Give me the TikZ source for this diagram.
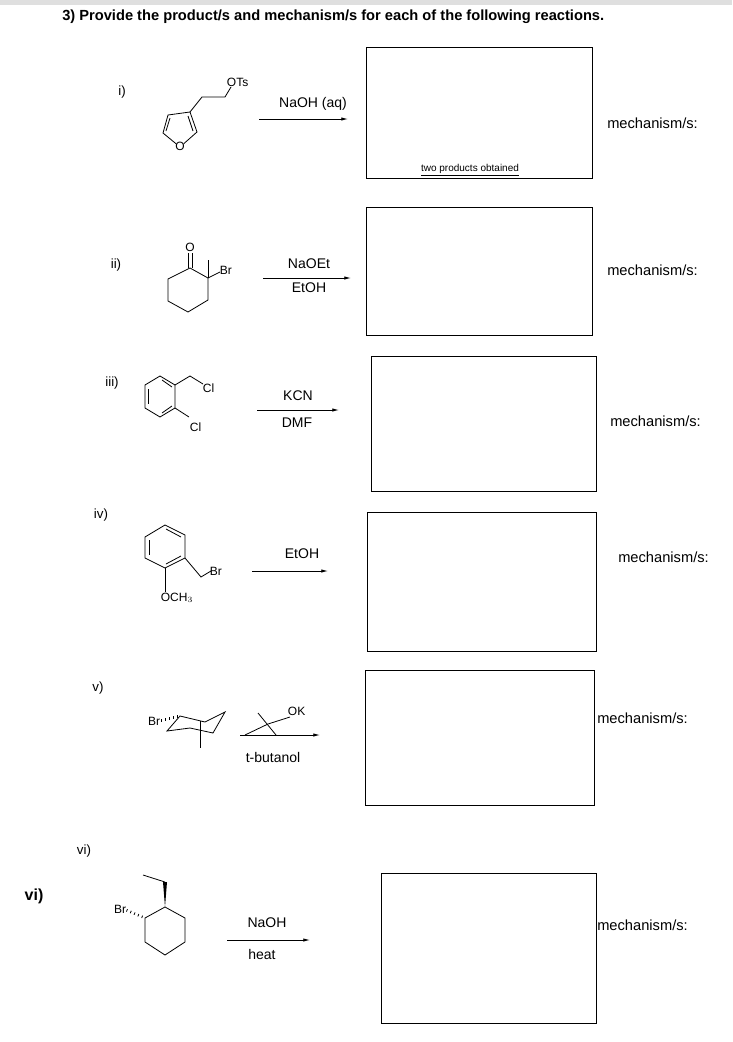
\documentclass[tikz,border=0pt]{standalone}
\usepackage{fontspec}
\setmainfont{Liberation Sans}
\usetikzlibrary{arrows.meta,calc}
\begin{document}
\begin{tikzpicture}[x=0.75pt,y=-0.75pt,
  bond/.style={line width=0.6pt},
  rxn/.style={line width=0.6pt,-{Latex[length=5pt,width=2.5pt]}},
  ansbox/.style={draw,line width=0.7pt},
  lbl/.style={font=\fontsize{10.5}{12}\selectfont,inner sep=1pt},
  atom/.style={font=\fontsize{9}{10}\selectfont,inner sep=0.5pt},
  mech/.style={font=\fontsize{11}{13}\selectfont,anchor=west,inner sep=0pt},
  roman/.style={font=\fontsize{10}{11}\selectfont,inner sep=0pt}]
\useasboundingbox (0,0) rectangle (732,1042);
\fill[gray!25] (0,0) rectangle (732,5);
\node[anchor=west,font=\bfseries\fontsize{11}{13}\selectfont,inner sep=0] (title) at (62,17) {3) Provide the product/s and mechanism/s for each of the following reactions.};
% roman labels
\node[roman] (r1) at (122,92) {i)};
\node[roman] (r2) at (116,265) {ii)};
\node[roman] (r3) at (112,383) {iii)};
\node[roman] (r4) at (101,515) {iv)};
\node[roman] (r5) at (98,688) {v)};
\node[roman] (r6) at (84,851) {vi)};
\node[font=\bfseries\fontsize{12}{14}\selectfont,inner sep=0] (r6b) at (34,896) {vi)};
% boxes
\draw[ansbox] (366,47) rectangle (592,178);
\node[font=\fontsize{7.5}{8}\selectfont,inner sep=1pt] (two) at (470,170) {\underline{two products obtained}};
\draw[ansbox] (366,207) rectangle (592,335);
\draw[ansbox] (371,356) rectangle (596,491);
\draw[ansbox] (367,512) rectangle (596,651);
\draw[ansbox] (365,670) rectangle (594,805);
\draw[ansbox] (381,873) rectangle (596,1023);
\node[mech] (m1) at (607,123) {mechanism/s:};
\node[mech] (m2) at (607,270) {mechanism/s:};
\node[mech] (m3) at (610,421) {mechanism/s:};
\node[mech] (m4) at (618,557) {mechanism/s:};
\node[mech] (m5) at (597,718) {mechanism/s:};
\node[mech] (m6) at (597,925) {mechanism/s:};
% ---- i) furan
\draw[bond] (180,147)--(163,133)--(168,115)--(190,112)--(197,132)--cycle;
\draw[bond] (166,131)--(170,118);
\draw[bond] (188,116)--(193,131);
\fill[white] (180,147) circle (5);
\node[atom] (o1) at (180,146) {O};
\draw[bond] (190,112)--(202,97)--(225,97)--(231,87);
\node[atom,anchor=south west] (ots) at (226,88) {OTs};
\draw[rxn] (259,119)--(348,119);
\node[lbl] (c1) at (313,104) {NaOH (aq)};
% ---- ii)
\draw[bond] (190,268)--(208,278)--(208,300)--(188,312)--(168,301)--(168,279)--cycle;
\draw[bond] (188,268)--(188,253); \draw[bond] (192,268)--(192,253);
\node[atom] (o2) at (190,247) {O};
\draw[bond] (208,278)--(208,260);
\draw[bond] (208,278)--(220,272);
\node[atom,anchor=west] (br2) at (219,270) {Br};
\draw[rxn] (263,278)--(351,278);
\node[lbl] (c2a) at (309,264) {NaOEt};
\node[lbl] (c2b) at (309,288) {EtOH};
% ---- iii)
\draw[bond] (145,385)--(160,376)--(175,385)--(175,408)--(160,417)--(145,408)--cycle;
\draw[bond] (148,389)--(148,404); \draw[bond] (162,380)--(172,387); \draw[bond] (162,413)--(172,406);
\draw[bond] (175,385)--(190,376)--(203,384);
\node[atom,anchor=west] (cl3a) at (202,388) {Cl};
\draw[bond] (175,408)--(189,417);
\node[atom,anchor=west] (cl3b) at (189,427) {Cl};
\draw[rxn] (257,410)--(339,410);
\node[lbl] (c3a) at (298,396) {KCN};
\node[lbl] (c3b) at (297,423) {DMF};
% ---- iv)
\draw[bond] (165,525)--(185,535)--(185,558)--(165,568)--(145,558)--(145,537)--cycle;
\draw[bond] (149,540)--(149,555); \draw[bond] (166,529)--(181,537); \draw[bond] (166,564)--(181,556);
\draw[bond] (185,558)--(201,577)--(211,571);
\node[atom,anchor=west] (br4) at (209,571) {Br};
\draw[bond] (165,568)--(165,592);
\node[atom,anchor=north] (och) at (177,592) {OCH$_3$};
\draw[rxn] (252,571)--(328,571);
\node[lbl] (c4) at (302,554) {EtOH};
% ---- v) chair
\draw[bond] (167,731)--(180,716)--(205,722)--(225,712)--(213,733)--(190,728)--cycle;
\draw[bond] (200,721)--(200,748);
\foreach \t in {0.15,0.35,0.55,0.75,0.95}{\draw[bond] ($(180,716)!\t!(160,721)$) ++(0,-1.3) -- ++(0,2.6);}
\node[atom,anchor=east] (br5) at (161,721) {Br};
\draw[rxn] (240,735)--(320,735);
\draw[bond] (258,713)--(276,735);
\draw[bond] (245,735)--(268,724)--(290,717);
\node[atom,anchor=west] (ok) at (287,711) {OK};
\node[lbl] (c5) at (273,757) {t-butanol};
% ---- vi)
\draw[bond] (145,918)--(165,907)--(185,918)--(185,942)--(165,955)--(145,942)--cycle;
\fill (165,907)--(163,882)--(167,882)--cycle;
\draw[bond] (165,882)--(143,875);
\foreach \t in {0.15,0.35,0.55,0.75,0.95}{\draw[bond] ($(145,918)!\t!(126,910)$) ++(0.5,-1.2) -- ++(-1,2.4);}
\node[atom,anchor=east] (br6) at (127,909) {Br};
\draw[rxn] (227,940)--(310,940);
\node[lbl] (c6a) at (267,923) {NaOH};
\node[lbl] (c6b) at (262,954) {heat};
\end{tikzpicture}
\end{document}
